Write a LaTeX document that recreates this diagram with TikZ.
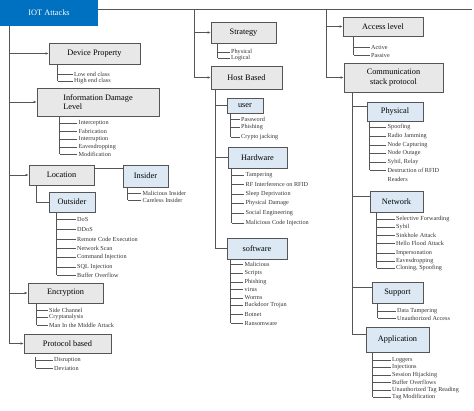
\documentclass[tikz,border=0pt]{standalone}
\usepackage{fontspec}
\setmainfont{Liberation Serif}
\usetikzlibrary{arrows.meta}
\definecolor{iotblue}{RGB}{0,112,192}
\definecolor{boxgray}{RGB}{232,232,232}
\definecolor{boxblue}{RGB}{220,233,245}
\definecolor{linegray}{RGB}{85,85,85}

\begin{document}
\begin{tikzpicture}[x=1pt,y=-1pt,
    root/.style={rectangle,fill=iotblue,text=white,minimum width=98pt,minimum height=26pt,font=\fontsize{8.3}{9}\selectfont},
    cat/.style={rectangle,draw=linegray,fill=boxgray,line width=0.7pt,align=center,inner sep=0pt,font=\fontsize{8.3}{9.5}\selectfont},
    sub/.style={rectangle,draw=linegray,fill=boxblue,line width=0.6pt,align=center,inner sep=0pt,font=\fontsize{8.3}{9}\selectfont},
    leaf/.style={anchor=west,inner xsep=1.5pt,inner ysep=0pt,text=black!80,font=\fontsize{6.2}{6.5}\selectfont},
    link/.style={draw=linegray,line width=0.6pt},
    arr/.style={link,-{Latex[length=3pt,width=2.6pt]}}]

\useasboundingbox (0,0) rectangle (474,410);

% main boxes
\node[root] (iot) at (49,13) {IOT Attacks};

\node[cat,minimum width=91pt,minimum height=21pt] (dev) at (94.5,53.5) {Device Property};
\node[cat,minimum width=122pt,minimum height=28pt,align=left] (info) at (98,102) {Information Damage\\Level};
\node[cat,minimum width=65pt,minimum height=20pt] (loc) at (61.5,175) {Location};
\node[sub,minimum width=45pt,minimum height=22pt] (ins) at (145.5,176) {Insider};
\node[sub,minimum width=46pt,minimum height=20pt] (out) at (72,202) {Outsider};
\node[cat,minimum width=75pt,minimum height=20pt] (enc) at (65.5,293) {Encryption};
\node[cat,minimum width=87pt,minimum height=19pt] (prot) at (67.5,343.5) {Protocol based};

\node[cat,minimum width=65pt,minimum height=21pt] (strat) at (243.5,32.5) {Strategy};
\node[cat,minimum width=71pt,minimum height=23pt] (host) at (246.5,77.5) {Host Based};
\node[sub,minimum width=36pt,minimum height=15pt] (user) at (245,105.5) {user};
\node[sub,minimum width=59pt,minimum height=21pt] (hw) at (257.5,157.5) {Hardware};
\node[sub,minimum width=60pt,minimum height=21pt] (sw) at (257,248.5) {software};

\node[cat,minimum width=80pt,minimum height=19pt] (acc) at (383,26.5) {Access level};
\node[cat,minimum width=99pt,minimum height=29pt] (comm) at (393.5,77.5) {Communication\\stack protocol};
\node[sub,minimum width=56pt,minimum height=19pt] (phys) at (395,111.5) {Physical};
\node[sub,minimum width=53pt,minimum height=21pt] (net) at (396.5,201.5) {Network};
\node[sub,minimum width=51pt,minimum height=21pt] (sup) at (397.5,292.5) {Support};
\node[sub,minimum width=63pt,minimum height=25pt] (app) at (397.5,339.5) {Application};

% trunks
\coordinate (top) at (472,9);
\coordinate (tl) at ([xshift=-40pt]iot.south);
\coordinate (tm) at (194,9);
\coordinate (tr) at (326,9);

\draw[link] ([yshift=4pt]iot.east) -- (top);
\draw[link] (tl) -- (tl |- prot.west);
\draw[link] (tm) -- (tm |- host.west);
\draw[link] (tr) -- (tr |- comm.west);

\draw[arr] (tl |- dev.west) -- (dev.west);
\draw[arr] (tl |- info.west) -- (info.west);
\draw[arr] (tl |- loc.west) -- (loc.west);
\draw[arr] (tl |- enc.west) -- (enc.west);
\draw[arr] (tl |- prot.west) -- (prot.west);
\draw[arr] (tm |- strat.west) -- (strat.west);
\draw[arr] (tm |- host.west) -- (host.west);
\draw[arr] (tr |- acc.west) -- (acc.west);
\draw[arr] (tr |- comm.west) -- (comm.west);

% sub-category links
\draw[link] ([yshift=7pt]loc.east) -- ([yshift=7pt]loc.east -| ins.west);
\draw[link] ([xshift=8pt]loc.south west) |- (out.west);

\coordinate (hb) at ([xshift=5pt]host.south west);
\draw[link] (hb) |- (sw.west);
\draw[link] (hb |- user.west) -- (user.west);
\draw[link] (hb |- hw.west) -- (hw.west);

\coordinate (cb) at ([xshift=9pt]comm.south west);
\draw[link] (cb) |- ([yshift=5pt]app.west);
\draw[link] (cb |- phys.west) ++(0,-5) -- ([yshift=5pt]phys.west);
\draw[link] (cb |- net.west) ++(0,-5) -- ([yshift=5pt]net.west);
\draw[link] (cb |- sup.west) ++(0,-5) -- ([yshift=5pt]sup.west);

% leaves
\coordinate (dvb) at ([xshift=9pt]dev.south west);
\foreach \y/\t [count=\i] in {74/Low end class,81/High end class}
  {\node[leaf] (dv\i) at (72.5,\y) {\t}; \draw[link] (dv\i.west) -- (dv\i.west -| dvb);}
\draw[link] (dvb) -- (dvb |- dv2.west);

\coordinate (ifb) at ([xshift=23pt]info.south west);
\foreach \y/\t [count=\i] in {123/Interception,131/Fabrication,139/Interruption,147/Eavesdropping,154/Modification}
  {\node[leaf] (if\i) at (77,\y) {\t}; \draw[link] (if\i.west) -- (if\i.west -| ifb);}
\draw[link] (ifb) -- (ifb |- if5.west);

\coordinate (inb) at ([xshift=5pt]ins.south west);
\foreach \y/\t [count=\i] in {193/Malicious Insider,200/Careless Insider}
  {\node[leaf] (in\i) at (141,\y) {\t}; \draw[link] (in\i.west) -- (in\i.west -| inb);}
\draw[link] (inb) -- (inb |- in2.west);

\coordinate (otb) at ([xshift=8pt]out.south west);
\foreach \y/\t [count=\i] in {219/DoS,229/DDoS,239/Remote Code Execution,248/Network Scan,257/Command Injection,267/SQL Injection,275/Buffer Overflow}
  {\node[leaf] (ot\i) at (75.5,\y) {\t}; \draw[link] (ot\i.west) -- (ot\i.west -| otb);}
\draw[link] (otb) -- (otb |- ot7.west);

\coordinate (ecb) at ([xshift=9pt]enc.south west);
\foreach \y/\t [count=\i] in {310/Side Channel,317/Cryptanalysis,325/Man In the Middle Attack}
  {\node[leaf] (ec\i) at (47.5,\y) {\t}; \draw[link] (ec\i.west) -- (ec\i.west -| ecb);}
\draw[link] (ecb) -- (ecb |- ec3.west);

\coordinate (prb) at ([xshift=12pt,yshift=-4pt]prot.south west);
\foreach \y/\t [count=\i] in {360/Disruption,368/Deviation}
  {\node[leaf] (pr\i) at (52.5,\y) {\t}; \draw[link] (pr\i.west) -- (pr\i.west -| prb);}
\draw[link] (prb) -- (prb |- pr2.west);

\coordinate (stb) at ([xshift=7pt]strat.south west);
\foreach \y/\t [count=\i] in {52/Physical,58/Logical}
  {\node[leaf] (st\i) at (229.5,\y) {\t}; \draw[link] (st\i.west) -- (st\i.west -| stb);}
\draw[link] (stb) -- (stb |- st2.west);

\coordinate (usb) at ([xshift=4pt]user.south west);
\foreach \y/\t [count=\i] in {119/Password,127/Phishing,137/Crypto jacking}
  {\node[leaf] (us\i) at (239.5,\y) {\t}; \draw[link] (us\i.west) -- (us\i.west -| usb);}
\draw[link] (usb) -- (usb |- us3.west);

\coordinate (hwb) at ([xshift=4pt]hw.south west);
\foreach \y/\t [count=\i] in {175/Tampering,184/RF Interference on RFID,194/Sleep Deprivation,203/Physical Damage,213/Social Engineering,223/Malicious Code Injection}
  {\node[leaf] (hw\i) at (244,\y) {\t}; \draw[link] (hw\i.west) -- (hw\i.west -| hwb);}
\draw[link] (hwb) -- (hwb |- hw6.west);

\coordinate (swb) at ([xshift=4pt]sw.south west);
\foreach \y/\t [count=\i] in {264/Malicious,273/Scripts,282/Phishing,289/virus,298/Worms,305/Backdoor Trojan,314/Botnet,323/Ransomware}
  {\node[leaf] (sw\i) at (243,\y) {\t}; \draw[link] (sw\i.west) -- (sw\i.west -| swb);}
\draw[link] (swb) -- (swb |- sw8.west);

\coordinate (acb) at ([xshift=11pt]acc.south west);
\foreach \y/\t [count=\i] in {47/Active,55/Passive}
  {\node[leaf] (ac\i) at (369.5,\y) {\t}; \draw[link] (ac\i.west) -- (ac\i.west -| acb);}
\draw[link] (acb) -- (acb |- ac2.west);

\coordinate (phb) at ([xshift=3pt]phys.south west);
\foreach \y/\t [count=\i] in {127/Spoofing,136/Radio Jamming,145/Node Capturing,153/Node Outage,162/{Sybil, Relay},170/Destruction of RFID}
  {\node[leaf] (ph\i) at (386,\y) {\t}; \draw[link] (ph\i.west) -- (ph\i.west -| phb);}
\draw[link] (phb) -- (phb |- ph6.west);
\node[leaf] (rd) at (386,179) {Readers};

\coordinate (ntb) at ([xshift=7pt]net.south west);
\foreach \y/\t [count=\i] in {219/Selective Forwarding,227/Sybil,235/Sinkhole Attack,243/Hello Flood Attack,253/Impersonation,261/Eavesdropping,268/{Cloning, Spoofing}}
  {\node[leaf] (nt\i) at (394.5,\y) {\t}; \draw[link] (nt\i.west) -- (nt\i.west -| ntb);}
\draw[link] (ntb) -- (ntb |- nt7.west);

\coordinate (spb) at ([xshift=6pt]sup.south west);
\foreach \y/\t [count=\i] in {311/Data Tampering,318/Unauthorized Access}
  {\node[leaf] (sp\i) at (395.5,\y) {\t}; \draw[link] (sp\i.west) -- (sp\i.west -| spb);}
\draw[link] (spb) -- (spb |- sp2.west);

\coordinate (apb) at ([xshift=7pt]app.south west);
\foreach \y/\t [count=\i] in {360/Loggers,367/Injections,375/Session Hijacking,382/Buffer Overflows,390/Unauthorized Tag Reading,397/Tag Modification}
  {\node[leaf] (ap\i) at (390.5,\y) {\t}; \draw[link] (ap\i.west) -- (ap\i.west -| apb);}
\draw[link] (apb) -- (apb |- ap6.west);

\end{tikzpicture}
\end{document}
